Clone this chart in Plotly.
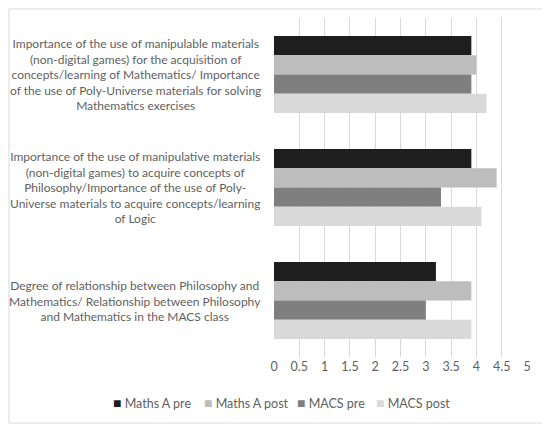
import plotly.graph_objects as go

# category labels, top to bottom
categories = [
    "Importance of the use of manipulable materials<br>(non-digital games) for the acquisition of<br>"
    "concepts/learning of Mathematics/ Importance<br>of the use of Poly-Universe materials for solving<br>"
    "Mathematics exercises",
    "Importance of the use of manipulative materials<br>(non-digital games) to acquire concepts of<br>"
    "Philosophy/Importance of the use of Poly-<br>Universe materials to acquire concepts/learning<br>"
    "of Logic",
    "Degree of relationship between Philosophy and<br>Mathematics/ Relationship between Philosophy<br>"
    "and Mathematics in the MACS class",
]
keys = ["q1", "q2", "q3"]

series_names = ["Maths A pre", "Maths A post", "MACS pre", "MACS post"]
maths_a_pre = [3.9, 3.9, 3.2]
maths_a_post = [4.0, 4.4, 3.9]
macs_pre = [3.9, 3.3, 3.0]
macs_post = [4.2, 4.1, 3.9]
x_ticks = [0, 0.5, 1, 1.5, 2, 2.5, 3, 3.5, 4, 4.5, 5]

colors = ["#1e1e1e", "#bdbdbd", "#7f7f7f", "#d9d9d9"]
grey_text = "#5f5f5f"
font_family = "Lato"

# the page body has an 8px margin, so the figure is drawn 8px smaller
OFF = 8
W, H = 550 - OFF, 426 - OFF
# plot area in window pixels
L, R, T, B = 274, 527, 18, 357
def px_x(p):
    return (p - L) / (R - L)
def px_y(p):
    return (B - p) / (B - T)

fig = go.Figure()
for name, vals, col in zip(series_names, [maths_a_pre, maths_a_post, macs_pre, macs_post], colors):
    fig.add_trace(go.Bar(
        y=keys, x=vals, name=name, orientation="h",
        marker=dict(color=col, line=dict(width=0)),
    ))

# centered multi-line category labels
for k, label in zip(keys, categories):
    fig.add_annotation(
        x=px_x(135), xref="paper", y=k, yref="y",
        text=label, showarrow=False, align="center",
        xanchor="center", yanchor="middle",
        font=dict(family=font_family, size=12, color=grey_text),
    )

# legend drawn as text entries along the bottom
legend_x = [111, 202, 295, 374]
for name, col, lx in zip(series_names, colors, legend_x):
    fig.add_annotation(
        x=px_x(lx), xref="paper", y=px_y(402), yref="paper",
        text=f"<span style='color:{col};font-size:14px'>■</span> {name}",
        showarrow=False, xanchor="left", yanchor="middle",
        font=dict(family=font_family, size=12.5, color=grey_text),
    )

# light frame around the whole chart
fig.add_shape(
    type="rect", xref="paper", yref="paper",
    x0=px_x(OFF + 1), x1=px_x(547), y0=px_y(423), y1=px_y(OFF + 1),
    line=dict(color="#d9d9d9", width=1), fillcolor="rgba(0,0,0,0)", layer="below",
)

fig.update_layout(
    width=W, height=H,
    margin=dict(l=L - OFF, r=550 - R, t=T - OFF, b=426 - B),
    barmode="group", bargap=0.32, bargroupgap=0,
    plot_bgcolor="white", paper_bgcolor="white",
    font=dict(family=font_family, size=12, color=grey_text),
    showlegend=False,
    xaxis=dict(
        range=[0, 5], tickvals=x_ticks, ticktext=[f"{t:g}" for t in x_ticks],
        showgrid=True, gridcolor="#d9d9d9", gridwidth=1,
        zeroline=False, showline=False, ticks="", automargin=False,
        tickfont=dict(family=font_family, size=12.5, color=grey_text),
    ),
    yaxis=dict(
        autorange="reversed", showticklabels=False, showgrid=False,
        zeroline=False, showline=False, ticks="", automargin=False,
    ),
)

fig.write_html("out.html")
